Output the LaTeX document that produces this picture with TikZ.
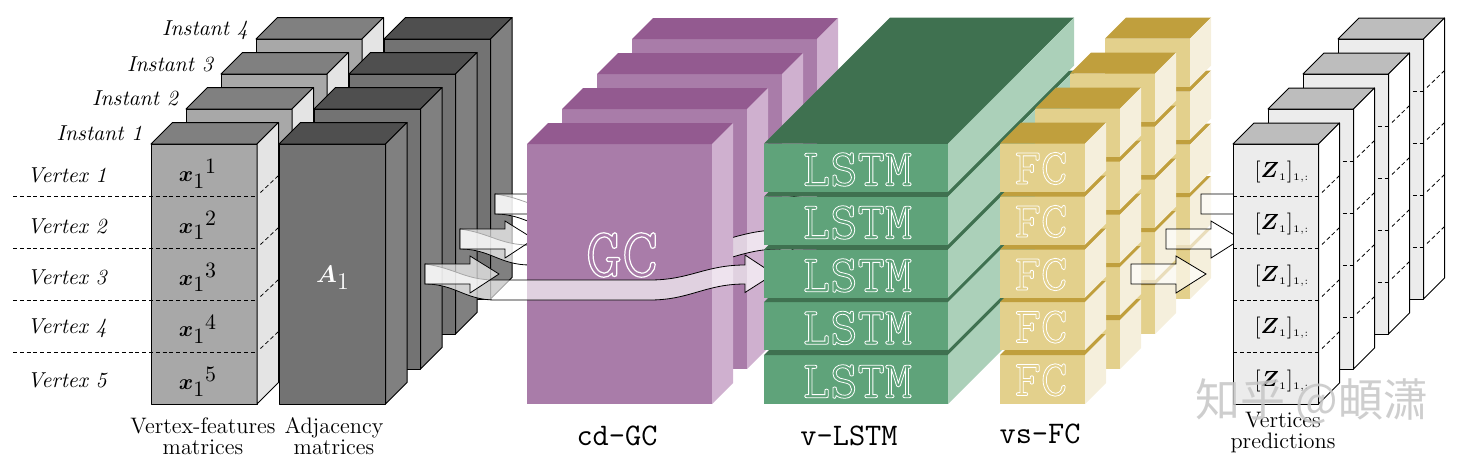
\documentclass[tikz,border=0pt]{standalone}
\usepackage{amsmath,amssymb}
\usepackage{fontspec}
\newfontfamily\markfont{Noto Sans CJK SC}
\usepackage{tikz}
\definecolor{vfront}{RGB}{168,168,168}
\definecolor{vtop}{RGB}{128,128,128}
\definecolor{vside}{RGB}{228,228,228}
\definecolor{afront}{RGB}{115,115,115}
\definecolor{atop}{RGB}{79,79,79}
\definecolor{aside}{RGB}{128,128,128}
\definecolor{gcfront}{RGB}{169,124,169}
\definecolor{gctop}{RGB}{147,90,144}
\definecolor{gcside}{RGB}{207,176,207}
\definecolor{lstmfront}{RGB}{95,163,122}
\definecolor{lstmtop}{RGB}{63,113,80}
\definecolor{lstmside}{RGB}{171,208,185}
\definecolor{fcfront}{RGB}{227,208,140}
\definecolor{fctop}{RGB}{192,159,61}
\definecolor{fcside}{RGB}{245,239,220}
\definecolor{zfront}{RGB}{236,236,236}
\definecolor{ztop}{RGB}{189,189,189}
\tikzset{
    edged/.style={draw=black,line width=0.5pt,line join=round},
    plain/.style={draw=none},
    rowdash/.style={black,line width=0.4pt,dash pattern=on 2pt off 1.4pt},
    flowarrow/.style={draw=black,line width=0.4pt,fill=white,fill opacity=0.65},
    hollowlabel/.style={inner sep=0pt,font=\ttfamily},
    rowlabel/.style={inner sep=0pt,font=\fontsize{10.8}{12}\selectfont\itshape},
    caption/.style={inner sep=0pt,align=center,font=\fontsize{11.2}{10.5}\selectfont},
    ttcaption/.style={inner sep=0pt,font=\fontsize{15.7}{18}\selectfont\ttfamily}
}
% x, y of front top left, width, bottom, depth, front, top, side, style
\newcommand{\cuboid}[9]{
    \path[#9,fill=#6] (#1,#2) rectangle (#1+#3,#4);
    \path[#9,fill=#7] (#1,#2) -- (#1+#5,#2-#5) -- (#1+#3+#5,#2-#5) -- (#1+#3,#2) -- cycle;
    \path[#9,fill=#8] (#1+#3,#2) -- (#1+#3+#5,#2-#5) -- (#1+#3+#5,#4-#5) -- (#1+#3,#4) -- cycle;
}
\newcommand{\hollow}[2]{\special{pdf:code q 1 Tr #1 w 1 1 1 RG}#2\special{pdf:code 0 Tr Q}}
\newcommand{\gcflow}[1]{
    \begin{scope}[shift={(#1,-#1)}]
        \path[flowarrow] (425,264) .. controls (455,268) and (465,280) .. (495,280) -- (650,280)
            .. controls (690,280) and (705,265) .. (745,265) -- (745,255) -- (774,274) -- (745,292.5) -- (745,284)
            .. controls (705,284) and (690,300) .. (650,300) -- (495,300)
            .. controls (465,300) and (455,284) .. (425,284) -- cycle;
        \path[flowarrow] (425,264) -- (470,264) -- (470,256) -- (499,274) -- (470,293) -- (470,284) -- (425,284) -- cycle;
    \end{scope}
}
\begin{document}
\begin{tikzpicture}[x=0.5pt,y=-0.5pt]
    \useasboundingbox (0,0) rectangle (1463,461);

    \foreach \s in {105,70,35,0} {
        \begin{scope}[shift={(\s,-\s)}]
            \cuboid{151}{144}{106}{404}{21.5}{vfront}{vtop}{vside}{edged}
            \foreach \r in {196,248,300,352} {
                \draw[rowdash] (260.5,\r-3.5) -- (278,\r-20);
            }
            \cuboid{279}{144}{106.5}{404}{21.5}{afront}{atop}{aside}{edged}
        \end{scope}
    }
    \foreach \r in {196,248,300,352} {
        \draw[rowdash] (13,\r) -- (257,\r);
    }

    \foreach \i/\x/\y in {1/99.5/133,2/135/98,3/170/64,4/205/30} {
        \node[rowlabel] (instant\i) at (\x,\y) {Instant \i};
    }
    \foreach \i/\y in {1/175,2/226,3/277,4/328,5/380} {
        \node[rowlabel] (vertex\i) at (67,\y) {Vertex \i};
        \node[inner sep=0pt,font=\fontsize{10.5}{12}\selectfont] (feature\i) at (198,\y+\i*0.8-2) {$\boldsymbol{x}_{\textstyle 1}{}^{\textstyle \i}$};
    }
    \node[inner sep=0pt,white,font=\fontsize{12}{14}\selectfont] (adjacency) at (333,278) {$\boldsymbol{A}_{\textstyle 1}$};
    \node[caption] (vfcaption) at (203,436) {Vertex-features\\matrices};
    \node[caption] (adjcaption) at (334,436) {Adjacency\\matrices};

    \foreach \s in {105,70} {
        \begin{scope}[shift={(\s,-\s)}]
            \cuboid{527}{144}{185}{404}{21}{gcfront}{gctop}{gcside}{plain}
        \end{scope}
    }
    \gcflow{70}
    \begin{scope}[shift={(35,-35)}]
        \cuboid{527}{144}{185}{404}{21}{gcfront}{gctop}{gcside}{plain}
    \end{scope}
    \gcflow{35}
    \cuboid{527}{144}{185}{404}{21}{gcfront}{gctop}{gcside}{plain}
    \node[hollowlabel,font=\fontsize{35}{38}\selectfont\ttfamily] (gclabel) at (622,255) {\hollow{0.6}{GC}};
    \gcflow{0}

    \foreach \t/\b in {355/404,302/350,249.5/297.5,196.5/244.5,143.5/191.5} {
        \cuboid{764}{\t}{184}{\b}{126}{lstmfront}{lstmtop}{lstmside}{plain}
        \node[hollowlabel,font=\fontsize{26.5}{28}\selectfont\ttfamily] at (857.5,{(\t+\b)/2+2}) {\hollow{0.4}{LSTM}};
    }

    \foreach \s in {105,70,35,0} {
        \begin{scope}[shift={(\s,-\s)}]
            \foreach \t/\b in {355/404,302/350,249.5/297.5,196.5/244.5,143.5/191.5} {
                \cuboid{1000}{\t}{85}{\b}{21}{fcfront}{fctop}{fcside}{plain}
            }
        \end{scope}
    }
    \foreach \t in {143.5,196.5,249.5,302,355} {
        \node[hollowlabel,font=\fontsize{25.5}{28}\selectfont\ttfamily] at (1041,\t+25) {\hollow{0.4}{FC}};
    }

    \foreach \s in {70,35,0} {
        \begin{scope}[shift={(\s,-\s)}]
            \path[flowarrow] (1131,264) -- (1176,264) -- (1176,256) -- (1206,274) -- (1176,293) -- (1176,284) -- (1131,284) -- cycle;
        \end{scope}
    }

    \foreach \s in {105,70,35,0} {
        \begin{scope}[shift={(\s,-\s)}]
            \cuboid{1233}{144}{85.5}{404}{21}{zfront}{ztop}{white}{edged}
            \foreach \r in {196,248,300,352} {
                \draw[rowdash] (1233,\r) -- (1318.5,\r);
                \draw[rowdash] (1322,\r-3.5) -- (1339,\r-20);
            }
        \end{scope}
    }
    \foreach \i/\y in {1/172,2/224,3/276,4/328,5/381} {
        \node[inner sep=0pt,font=\fontsize{11}{12}\selectfont] (pred\i) at (1282,\y) {$[\boldsymbol{Z}_{\scriptscriptstyle 1}]_{\scriptscriptstyle 1,:}$};
    }

    \node[ttcaption] (gccaption) at (617,436) {cd-GC};
    \node[ttcaption] (lstmcaption) at (849,436) {v-LSTM};
    \node[ttcaption] (fccaption) at (1040,434) {vs-FC};
    \node[caption] (predcaption) at (1283,433) {Vertices\\predictions};
    \node[inner sep=0pt,text=gray!45,text opacity=0.85,font=\fontsize{22.5}{26}\selectfont\markfont] (watermark) at (1312,401) {知乎 @頔潇};
\end{tikzpicture}
\end{document}
